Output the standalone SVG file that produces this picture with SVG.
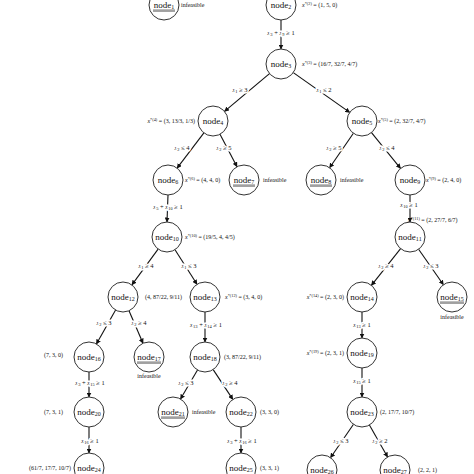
<svg xmlns="http://www.w3.org/2000/svg" width="474" height="474" viewBox="0 0 474 474">
<defs>
<marker id="ah" viewBox="0 0 10 10" refX="9" refY="5" markerWidth="5" markerHeight="5" markerUnits="userSpaceOnUse" orient="auto">
<path d="M0,0 L10,5 L0,10 z" fill="#111"/>
</marker>
<style>
text{font-family:"Liberation Serif","DejaVu Serif",serif;fill:#111}
.n circle{fill:#fff;stroke:#333;stroke-width:1}
.ul{stroke:#222;stroke-width:0.6}
.nl{font-size:9px;text-anchor:middle}
.ns{font-size:6px}
.a{font-size:6px}
.ae{font-size:6px;text-anchor:end}
.am{font-size:6px;text-anchor:middle}
.sp{font-size:4.3px}
.e{font-size:6.5px;text-anchor:middle;stroke:#fff;stroke-width:3;paint-order:stroke;stroke-linejoin:round}
.s{font-size:4.5px}
.i{font-style:italic}
#edges line{stroke:#111;stroke-width:1.1;marker-end:url(#ah)}
</style>
</defs>
<rect width="474" height="474" fill="#fff"/>
<g id="edges">
<line x1="281" y1="20" x2="281" y2="49"/>
<line x1="269.5" y1="73.6" x2="224.5" y2="111.4"/>
<line x1="293.3" y1="72.6" x2="349.7" y2="112.4"/>
<line x1="203.9" y1="132.9" x2="177.1" y2="168.1"/>
<line x1="220" y1="134.3" x2="237" y2="166.7"/>
<line x1="353.4" y1="133.3" x2="329.6" y2="167.7"/>
<line x1="371.5" y1="132.6" x2="400.5" y2="168.4"/>
<line x1="168" y1="195" x2="167" y2="222"/>
<line x1="410" y1="195" x2="410" y2="222"/>
<line x1="158.1" y1="249.1" x2="131.9" y2="284.9"/>
<line x1="175" y1="249.7" x2="197" y2="284.3"/>
<line x1="400.6" y1="248.7" x2="371.4" y2="285.3"/>
<line x1="418.6" y1="249.3" x2="443.4" y2="284.7"/>
<line x1="115.6" y1="310" x2="96.4" y2="344"/>
<line x1="129" y1="310.8" x2="143" y2="343.2"/>
<line x1="205" y1="312" x2="205" y2="342"/>
<line x1="362" y1="312" x2="362" y2="338"/>
<line x1="89" y1="372" x2="89" y2="397"/>
<line x1="197.5" y1="370" x2="180.5" y2="399"/>
<line x1="213.2" y1="369.6" x2="232.8" y2="399.4"/>
<line x1="362" y1="368" x2="362" y2="397"/>
<line x1="89" y1="427" x2="89" y2="453"/>
<line x1="241" y1="427" x2="241" y2="453"/>
<line x1="353.5" y1="424.3" x2="330.5" y2="457.7"/>
<line x1="369.4" y1="425" x2="387.6" y2="457"/>
</g>
<g id="edge-labels">
<text class="e" x="281" y="35"><tspan class="i">x</tspan><tspan class="s" dy="1.2">3</tspan><tspan dy="-1.2"> + </tspan><tspan class="i">x</tspan><tspan class="s" dy="1.2">9</tspan><tspan dy="-1.2"> ≥ 1</tspan></text>
<text class="e" x="240" y="92"><tspan class="i">x</tspan><tspan class="s" dy="1.2">1</tspan><tspan dy="-1.2"> ≥ 3</tspan></text>
<text class="e" x="324" y="92"><tspan class="i">x</tspan><tspan class="s" dy="1.2">1</tspan><tspan dy="-1.2"> ≤ 2</tspan></text>
<text class="e" x="182" y="150"><tspan class="i">x</tspan><tspan class="s" dy="1.2">2</tspan><tspan dy="-1.2"> ≤ 4</tspan></text>
<text class="e" x="224" y="150"><tspan class="i">x</tspan><tspan class="s" dy="1.2">2</tspan><tspan dy="-1.2"> ≥ 5</tspan></text>
<text class="e" x="334" y="150"><tspan class="i">x</tspan><tspan class="s" dy="1.2">2</tspan><tspan dy="-1.2"> ≥ 5</tspan></text>
<text class="e" x="387" y="150"><tspan class="i">x</tspan><tspan class="s" dy="1.2">2</tspan><tspan dy="-1.2"> ≤ 4</tspan></text>
<text class="e" x="168" y="209"><tspan class="i">x</tspan><tspan class="s" dy="1.2">5</tspan><tspan dy="-1.2"> + </tspan><tspan class="i">x</tspan><tspan class="s" dy="1.2">10</tspan><tspan dy="-1.2"> ≥ 1</tspan></text>
<text class="e" x="409" y="207"><tspan class="i">x</tspan><tspan class="s" dy="1.2">10</tspan><tspan dy="-1.2"> ≥ 1</tspan></text>
<text class="e" x="146" y="268"><tspan class="i">x</tspan><tspan class="s" dy="1.2">1</tspan><tspan dy="-1.2"> ≥ 4</tspan></text>
<text class="e" x="189" y="268"><tspan class="i">x</tspan><tspan class="s" dy="1.2">1</tspan><tspan dy="-1.2"> ≤ 3</tspan></text>
<text class="e" x="386" y="268"><tspan class="i">x</tspan><tspan class="s" dy="1.2">2</tspan><tspan dy="-1.2"> ≥ 4</tspan></text>
<text class="e" x="431" y="268"><tspan class="i">x</tspan><tspan class="s" dy="1.2">2</tspan><tspan dy="-1.2"> ≤ 3</tspan></text>
<text class="e" x="104" y="325"><tspan class="i">x</tspan><tspan class="s" dy="1.2">2</tspan><tspan dy="-1.2"> ≤ 3</tspan></text>
<text class="e" x="139" y="325"><tspan class="i">x</tspan><tspan class="s" dy="1.2">2</tspan><tspan dy="-1.2"> ≥ 4</tspan></text>
<text class="e" x="206" y="327"><tspan class="i">x</tspan><tspan class="s" dy="1.2">13</tspan><tspan dy="-1.2"> + </tspan><tspan class="i">x</tspan><tspan class="s" dy="1.2">14</tspan><tspan dy="-1.2"> ≥ 1</tspan></text>
<text class="e" x="362" y="327"><tspan class="i">x</tspan><tspan class="s" dy="1.2">13</tspan><tspan dy="-1.2"> ≥ 1</tspan></text>
<text class="e" x="90" y="385"><tspan class="i">x</tspan><tspan class="s" dy="1.2">3</tspan><tspan dy="-1.2"> + </tspan><tspan class="i">x</tspan><tspan class="s" dy="1.2">15</tspan><tspan dy="-1.2"> ≥ 1</tspan></text>
<text class="e" x="186" y="385"><tspan class="i">x</tspan><tspan class="s" dy="1.2">2</tspan><tspan dy="-1.2"> ≤ 3</tspan></text>
<text class="e" x="230" y="385"><tspan class="i">x</tspan><tspan class="s" dy="1.2">2</tspan><tspan dy="-1.2"> ≥ 4</tspan></text>
<text class="e" x="362" y="383"><tspan class="i">x</tspan><tspan class="s" dy="1.2">15</tspan><tspan dy="-1.2"> ≥ 1</tspan></text>
<text class="e" x="90" y="443"><tspan class="i">x</tspan><tspan class="s" dy="1.2">16</tspan><tspan dy="-1.2"> ≥ 1</tspan></text>
<text class="e" x="242" y="443"><tspan class="i">x</tspan><tspan class="s" dy="1.2">3</tspan><tspan dy="-1.2"> + </tspan><tspan class="i">x</tspan><tspan class="s" dy="1.2">16</tspan><tspan dy="-1.2"> ≥ 1</tspan></text>
<text class="e" x="341" y="443"><tspan class="i">x</tspan><tspan class="s" dy="1.2">2</tspan><tspan dy="-1.2"> ≤ 3</tspan></text>
<text class="e" x="380" y="443"><tspan class="i">x</tspan><tspan class="s" dy="1.2">2</tspan><tspan dy="-1.2"> ≥ 2</tspan></text>
</g>
<g id="node1" class="n"><circle cx="164" cy="5" r="15"/><text class="nl" x="164" y="7.5">node<tspan class="ns" dy="1.5">1</tspan></text><line class="ul" x1="153" y1="10" x2="175" y2="10"/><line class="ul" x1="153" y1="11.2" x2="175" y2="11.2"/><text class="a" x="181" y="7">infeasible</text></g>
<g id="node2" class="n"><circle cx="281" cy="5" r="15"/><text class="nl" x="281" y="7.5">node<tspan class="ns" dy="1.5">2</tspan></text><text class="a" x="302" y="7"><tspan class="i">x</tspan><tspan class="sp" dy="-2.4">*(2)</tspan><tspan dy="2.4"> = (1, 5, 0)</tspan></text></g>
<g id="node3" class="n"><circle cx="281" cy="64" r="15"/><text class="nl" x="281" y="66.5">node<tspan class="ns" dy="1.5">3</tspan></text><text class="a" x="302" y="66"><tspan class="i">x</tspan><tspan class="sp" dy="-2.4">*(3)</tspan><tspan dy="2.4"> = (16/7, 32/7, 4/7)</tspan></text></g>
<g id="node4" class="n"><circle cx="213" cy="121" r="15"/><text class="nl" x="213" y="123.5">node<tspan class="ns" dy="1.5">4</tspan></text><text class="ae" x="195" y="123"><tspan class="i">x</tspan><tspan class="sp" dy="-2.4">*(4)</tspan><tspan dy="2.4"> = (3, 13/3, 1/3)</tspan></text></g>
<g id="node5" class="n"><circle cx="362" cy="121" r="15"/><text class="nl" x="362" y="123.5">node<tspan class="ns" dy="1.5">5</tspan></text><text class="a" x="378" y="123"><tspan class="i">x</tspan><tspan class="sp" dy="-2.4">*(5)</tspan><tspan dy="2.4"> = (2, 32/7, 4/7)</tspan></text></g>
<g id="node6" class="n"><circle cx="168" cy="180" r="15"/><text class="nl" x="168" y="182.5">node<tspan class="ns" dy="1.5">6</tspan></text><text class="a" x="185" y="182"><tspan class="i">x</tspan><tspan class="sp" dy="-2.4">*(6)</tspan><tspan dy="2.4"> = (4, 4, 0)</tspan></text></g>
<g id="node7" class="n"><circle cx="244" cy="180" r="15"/><text class="nl" x="244" y="182.5">node<tspan class="ns" dy="1.5">7</tspan></text><line class="ul" x1="233" y1="185" x2="255" y2="185"/><line class="ul" x1="233" y1="186.2" x2="255" y2="186.2"/><text class="a" x="263" y="182">infeasible</text></g>
<g id="node8" class="n"><circle cx="321" cy="180" r="15"/><text class="nl" x="321" y="182.5">node<tspan class="ns" dy="1.5">8</tspan></text><line class="ul" x1="310" y1="185" x2="332" y2="185"/><line class="ul" x1="310" y1="186.2" x2="332" y2="186.2"/><text class="a" x="340" y="182">infeasible</text></g>
<g id="node9" class="n"><circle cx="410" cy="180" r="15"/><text class="nl" x="410" y="182.5">node<tspan class="ns" dy="1.5">9</tspan></text><text class="a" x="426" y="182"><tspan class="i">x</tspan><tspan class="sp" dy="-2.4">*(9)</tspan><tspan dy="2.4"> = (2, 4, 0)</tspan></text></g>
<g id="node10" class="n"><circle cx="167" cy="237" r="15"/><text class="nl" x="167" y="239.5">node<tspan class="ns" dy="1.5">10</tspan></text><text class="a" x="185" y="239"><tspan class="i">x</tspan><tspan class="sp" dy="-2.4">*(10)</tspan><tspan dy="2.4"> = (19/5, 4, 4/5)</tspan></text></g>
<g id="node11" class="n"><circle cx="410" cy="237" r="15"/><text class="nl" x="410" y="239.5">node<tspan class="ns" dy="1.5">11</tspan></text><text class="a" x="408" y="222"><tspan class="i">x</tspan><tspan class="sp" dy="-2.4">*(11)</tspan><tspan dy="2.4"> = (2, 27/7, 6/7)</tspan></text></g>
<g id="node12" class="n"><circle cx="123" cy="297" r="15"/><text class="nl" x="123" y="299.5">node<tspan class="ns" dy="1.5">12</tspan></text><text class="a" x="145" y="299">(4, 87/22, 9/11)</text></g>
<g id="node13" class="n"><circle cx="205" cy="297" r="15"/><text class="nl" x="205" y="299.5">node<tspan class="ns" dy="1.5">13</tspan></text><text class="a" x="225" y="299"><tspan class="i">x</tspan><tspan class="sp" dy="-2.4">*(12)</tspan><tspan dy="2.4"> = (3, 4, 0)</tspan></text></g>
<g id="node14" class="n"><circle cx="362" cy="297" r="15"/><text class="nl" x="362" y="299.5">node<tspan class="ns" dy="1.5">14</tspan></text><text class="ae" x="344" y="299"><tspan class="i">x</tspan><tspan class="sp" dy="-2.4">*(14)</tspan><tspan dy="2.4"> = (2, 3, 0)</tspan></text></g>
<g id="node15" class="n"><circle cx="452" cy="297" r="15"/><text class="nl" x="452" y="299.5">node<tspan class="ns" dy="1.5">15</tspan></text><line class="ul" x1="440" y1="302" x2="464" y2="302"/><line class="ul" x1="440" y1="303.2" x2="464" y2="303.2"/><text class="am" x="452" y="319">infeasible</text></g>
<g id="node16" class="n"><circle cx="89" cy="357" r="15"/><text class="nl" x="89" y="359.5">node<tspan class="ns" dy="1.5">16</tspan></text><text class="ae" x="63" y="357">(7, 3, 0)</text></g>
<g id="node17" class="n"><circle cx="149" cy="357" r="15"/><text class="nl" x="149" y="359.5">node<tspan class="ns" dy="1.5">17</tspan></text><line class="ul" x1="137" y1="362" x2="161" y2="362"/><line class="ul" x1="137" y1="363.2" x2="161" y2="363.2"/><text class="am" x="149" y="378">infeasible</text></g>
<g id="node18" class="n"><circle cx="205" cy="357" r="15"/><text class="nl" x="205" y="359.5">node<tspan class="ns" dy="1.5">18</tspan></text><text class="a" x="224" y="359">(3, 87/22, 9/11)</text></g>
<g id="node19" class="n"><circle cx="362" cy="353" r="15"/><text class="nl" x="362" y="355.5">node<tspan class="ns" dy="1.5">19</tspan></text><text class="ae" x="344" y="355"><tspan class="i">x</tspan><tspan class="sp" dy="-2.4">*(19)</tspan><tspan dy="2.4"> = (2, 3, 1)</tspan></text></g>
<g id="node20" class="n"><circle cx="89" cy="412" r="15"/><text class="nl" x="89" y="414.5">node<tspan class="ns" dy="1.5">20</tspan></text><text class="ae" x="63" y="414">(7, 3, 1)</text></g>
<g id="node21" class="n"><circle cx="173" cy="412" r="15"/><text class="nl" x="173" y="414.5">node<tspan class="ns" dy="1.5">21</tspan></text><line class="ul" x1="161" y1="417" x2="185" y2="417"/><line class="ul" x1="161" y1="418.2" x2="185" y2="418.2"/><text class="a" x="192" y="414">infeasible</text></g>
<g id="node22" class="n"><circle cx="241" cy="412" r="15"/><text class="nl" x="241" y="414.5">node<tspan class="ns" dy="1.5">22</tspan></text><text class="a" x="260" y="414">(3, 3, 0)</text></g>
<g id="node23" class="n"><circle cx="362" cy="412" r="15"/><text class="nl" x="362" y="414.5">node<tspan class="ns" dy="1.5">23</tspan></text><text class="a" x="380" y="414">(2, 17/7, 10/7)</text></g>
<g id="node24" class="n"><circle cx="89" cy="468" r="15"/><text class="nl" x="89" y="470.5">node<tspan class="ns" dy="1.5">24</tspan></text><text class="ae" x="71" y="470">(61/7, 17/7, 10/7)</text></g>
<g id="node25" class="n"><circle cx="241" cy="468" r="15"/><text class="nl" x="241" y="470.5">node<tspan class="ns" dy="1.5">25</tspan></text><text class="a" x="260" y="470">(3, 3, 1)</text></g>
<g id="node26" class="n"><circle cx="322" cy="470" r="15"/><text class="nl" x="322" y="472.5">node<tspan class="ns" dy="1.5">26</tspan></text></g>
<g id="node27" class="n"><circle cx="395" cy="470" r="15"/><text class="nl" x="395" y="472.5">node<tspan class="ns" dy="1.5">27</tspan></text><text class="a" x="418" y="472">(2, 2, 1)</text></g>
</svg>
